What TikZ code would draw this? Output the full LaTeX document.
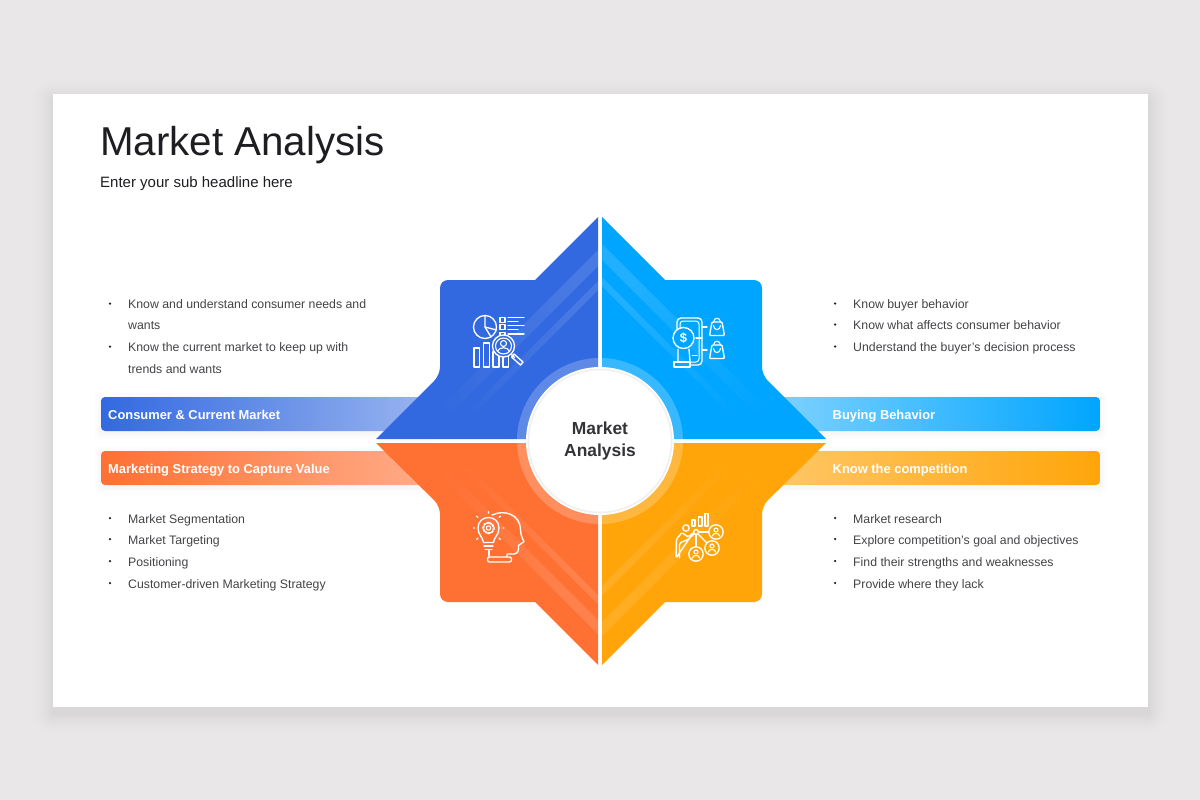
\documentclass[tikz,border=0pt]{standalone}
\usepackage{fontspec}
\setmainfont{Liberation Sans}
\usetikzlibrary{fadings,calc}
\definecolor{bgc}{HTML}{E9E7E8}
\definecolor{cblue}{HTML}{3369E0}
\definecolor{csky}{HTML}{00A5FF}
\definecolor{corange}{HTML}{FF7033}
\definecolor{camber}{HTML}{FFA50A}
\definecolor{ink}{HTML}{1E1E22}
\definecolor{hubc}{HTML}{333338}
\definecolor{bodyc}{HTML}{444448}
\tikzfading[name=stripefade,left color=transparent!100,middle color=transparent!0,right color=transparent!45]
\tikzset{
 x=1pt,y=-1pt,
 titletext/.style={anchor=base west,inner sep=0,text=ink,font=\fontsize{40.3}{41}\selectfont},
 subtext/.style={anchor=base west,inner sep=0,text=ink,font=\fontsize{15}{15}\selectfont},
 linetext/.style={anchor=base west,inner sep=0,text=bodyc,font=\fontsize{12.3}{12.3}\selectfont},
 dotmark/.style={circle,fill=ink,inner sep=0,minimum size=2.5pt},
 bartext/.style={anchor=base west,inner sep=0,text=white,font=\bfseries\fontsize{12.9}{13}\selectfont},
 centertext/.style={align=center,inner sep=0,text=hubc,font=\bfseries\fontsize{17.4}{22}\selectfont},
 icon/.style={draw=white,line width=1.35pt,line cap=round,line join=round},
}
\newcommand{\bandup}[6]{\fill[white,fill opacity=#5,path fading=stripefade,fading angle=#6] ({#1},{#3-#1}) -- ({#2},{#3-#2}) -- ({#2},{#4-#2}) -- ({#1},{#4-#1}) -- cycle;}
\newcommand{\banddn}[6]{\fill[white,fill opacity=#5,path fading=stripefade,fading angle=#6] ({#1},{#1+#3}) -- ({#2},{#2+#3}) -- ({#2},{#2+#4}) -- ({#1},{#1+#4}) -- cycle;}
\newcommand{\softshadow}[4]{\foreach \i in {9,...,1}{\pgfmathsetmacro{\k}{(10-\i)*(10-\i)/81*3}\fill[black!\k!white,rounded corners=\i pt] ({#1-\i},{#2-\i+2}) rectangle ({#3+\i},{#4+\i+2});}}
\begin{document}
\begin{tikzpicture}
\useasboundingbox (0,0) rectangle (1200,800);
\fill[bgc] (0,0) rectangle (1200,800);
% card
\foreach \i in {24,...,1}{\pgfmathsetmacro{\k}{(25-\i)*(25-\i)/576*7}\fill[black!\k!bgc,rounded corners=\i pt] ({53-\i},{94-\i+6}) rectangle ({1148+\i},{707+\i+6});}
\fill[white] (53,94) rectangle (1148,707);
\node[titletext] (title) at (100,155) {Market Analysis};
\node[subtext] (sub) at (100,187.5) {Enter your sub headline here};

% bars
\softshadow{101}{397}{430}{431}
\softshadow{101}{451}{430}{485}
\softshadow{780}{397}{1100}{431}
\softshadow{780}{451}{1100}{485}
\shade[left color=cblue,right color=cblue!50,rounded corners=4pt] (101,397) rectangle (430,431);
\shade[left color=corange,right color=corange!58,rounded corners=4pt] (101,451) rectangle (430,485);
\shade[left color=csky!50,right color=csky,rounded corners=4pt] (770,397) rectangle (1100,431);
\shade[left color=camber!62,right color=camber,rounded corners=4pt] (770,451) rectangle (1100,485);

% quadrants
\path[fill=cblue] (598,217) -- (535,280) [rounded corners=8pt] -- (440,280) -- (440,375) [sharp corners] -- (376,439) -- (598,439) -- cycle;
\path[fill=csky] (602,217) -- (665,280) [rounded corners=8pt] -- (762,280) -- (762,375) [sharp corners] -- (826,439) -- (602,439) -- cycle;
\path[fill=corange] (598,665) -- (535,602) [rounded corners=8pt] -- (440,602) -- (440,506) [sharp corners] -- (376,443) -- (598,443) -- cycle;
\path[fill=camber] (602,665) -- (665,602) [rounded corners=8pt] -- (762,602) -- (762,506) [sharp corners] -- (826,443) -- (602,443) -- cycle;

% stripes
\begin{scope}
\clip (598,217) -- (535,280) -- (440,280) -- (440,375) -- (376,439) -- (598,439) -- cycle;
\bandup{415}{598}{848}{864}{.2}{45}
\bandup{445}{598}{879}{888}{.2}{45}
\end{scope}
\begin{scope}
\clip (602,217) -- (665,280) -- (762,280) -- (762,375) -- (826,439) -- (602,439) -- cycle;
\banddn{602}{790}{-358}{-342}{.24}{135}
\banddn{602}{760}{-325}{-316}{.24}{135}
\end{scope}
\begin{scope}
\clip (598,665) -- (535,602) -- (440,602) -- (440,506) -- (376,443) -- (598,443) -- cycle;
\banddn{415}{598}{22}{36}{.24}{-45}
\banddn{440}{598}{-3}{6}{.24}{-45}
\end{scope}
\begin{scope}
\clip (602,665) -- (665,602) -- (762,602) -- (762,506) -- (826,443) -- (602,443) -- cycle;
\bandup{602}{760}{1188}{1198}{.18}{225}
\bandup{602}{790}{1224}{1238}{.18}{225}
\end{scope}

% centre
\begin{scope}
\clip (376,217) rectangle (598,439);
\fill[white,fill opacity=.22] (600,441) circle (83);
\end{scope}
\begin{scope}
\clip (602,217) rectangle (826,439);
\fill[white,fill opacity=.22] (600,441) circle (83);
\end{scope}
\begin{scope}
\clip (376,443) rectangle (598,665);
\fill[white,fill opacity=.22] (600,441) circle (83);
\end{scope}
\begin{scope}
\clip (602,443) rectangle (826,665);
\fill[white,fill opacity=.22] (600,441) circle (83);
\end{scope}
\fill[white] (600,441) circle (74);
\draw[black!6,line width=1.6pt,fill=white] (600,441) circle (71.5);
\node[centertext] (hub) at (600,441) {Market\\Analysis};

% icon: analysis
\begin{scope}
\draw[icon] (485,327) circle (11.5);
\draw[icon] (485,315.5) -- (485,327) -- (496.5,330);
\draw[icon] (485,327) -- (491,337);
\foreach \yy in {320,327,335}{\draw[icon,line width=1.1pt] (500,{\yy-2.5}) rectangle (505,{\yy+2.5});}
\draw[icon,line width=1.15pt] (508,317.5) -- (524,317.5) (508,321.5) -- (518,321.5) (508,325.5) -- (524,325.5) (508,329.5) -- (518,329.5) (508,334) -- (524,334);
\draw[icon] (474,348) rectangle (479.5,367);
\draw[icon] (483.5,343) rectangle (489.5,367);
\draw[icon] (493,352) rectangle (499,367);
\draw[icon] (503,355) rectangle (508.5,367);
\draw[icon,fill=cblue] (503.5,346) circle (11);
\draw[icon,line width=1.1pt] (503.5,346) circle (8);
\draw[icon,line width=1.1pt] (503.5,343.5) circle (3);
\draw[icon,line width=1.1pt] (497.5,351.5) .. controls (498.5,346.5) and (508.5,346.5) .. (509.5,351.5);
\draw[icon] (511.5,354.5) -- (514.5,357.5);
\draw[icon] (514,354) -- (523,362) -- (520.5,365) -- (511.5,357) -- cycle;
\end{scope}

% icon: buying
\begin{scope}
\draw[icon,rounded corners=4pt] (677,334) -- (677,318) -- (702,318) -- (702,365) -- (690,365);
\draw[icon,rounded corners=3pt,line width=1pt] (680,330) -- (680,321) -- (699,321) -- (699,362) -- (690,362);
\draw[icon,fill=csky] (683.5,338) circle (10.5);
\node[inner sep=0,text=white,font=\bfseries\fontsize{13}{13}\selectfont] (dollar) at (683.5,338) {\$};
\draw[icon] (678,349) -- (678,361) (689,349) -- (690,361);
\draw[icon] (674,362) rectangle (690,367);
\draw[icon,line width=1.1pt] (692.5,355.5) -- (697,355.5);
\draw[icon] (702,327) -- (707,327) (702,338) -- (696,338) (702,350) -- (707,350);
\foreach \yy in {322,345}{
 \draw[icon,rounded corners=1pt] (712,\yy) -- (722,\yy) -- (724.5,{\yy+13.5}) -- (709.5,{\yy+13.5}) -- cycle;
 \draw[icon,line width=1.1pt] (713.5,{\yy}) .. controls (714,{\yy-5}) and (720,{\yy-5}) .. (720.5,{\yy});
 \draw[icon,line width=1.1pt] (713.5,{\yy+3.5}) .. controls (714,{\yy+9}) and (720,{\yy+9}) .. (720.5,{\yy+3.5});
}
\end{scope}

% icon: idea
\begin{scope}
\draw[icon] (492,515) .. controls (505,509) and (520,515) .. (520.5,529) .. controls (520.5,534) and (522,538) .. (524,541.5) -- (518.5,545.5) .. controls (519,550) and (518,553.5) .. (514,554) -- (507,554) -- (507,556.5);
\draw[icon] (483.5,542.5) .. controls (483,537) and (478,535) .. (478,528) .. controls (478,514) and (499,514) .. (499,528) .. controls (499,535) and (494,537) .. (493.5,542.5) -- cycle;
\draw[icon,rounded corners=2pt,line width=1.1pt] (484,546) -- (493,546) (485,549.5) -- (492,549.5);
\draw[icon] (489,550) -- (489,556);
\draw[icon,rounded corners=2pt] (487.5,557) rectangle (511.5,562);
\draw[icon,line width=1.1pt] (488.5,528) circle (2.2);
\draw[icon,line width=2pt,dash pattern=on 1.6pt off 1.7pt] (488.5,528) circle (5.4);
\draw[icon] (488.5,513) -- (488.5,511.5) (478,517.5) -- (476.5,516) (499,517.5) -- (500.5,516) (473.5,528) -- (474.5,528) (503,528) -- (504,528) (478,538) -- (476.5,539.5) (499,538) -- (500.5,539.5);
\end{scope}

% icon: competition
\begin{scope}
\draw[icon,line width=1.2pt] (692,520) rectangle (695,526) (698.5,517) rectangle (702,526) (705,513.5) rectangle (708,526);
\draw[icon] (686,528) circle (3.2);
\draw[icon,rounded corners=1.5pt] (679.5,558) -- (679.5,543) -- (688,539.5) -- (694,534) (693.5,532.5) -- (688,537) -- (682,532.5) -- (676.5,539) -- (676,558) -- cycle;
\draw[icon] (696,532) circle (2.4);
\draw[icon] (698.5,532) -- (708,532);
\draw[icon] (698,534) -- (707,543);
\draw[icon] (696,534.5) -- (696,546);
\foreach \cx/\cy in {716/532,712/548,696/554}{
 \draw[icon] (\cx,\cy) circle (7.2);
 \draw[icon,line width=1.1pt] (\cx,{\cy-2}) circle (2);
 \draw[icon,line width=1.1pt] ({\cx-3.6},{\cy+4}) .. controls ({\cx-3},{\cy+.5}) and ({\cx+3},{\cy+.5}) .. ({\cx+3.6},{\cy+4});
}
\end{scope}

% bar text
\node[bartext] (b1) at (108,419) {Consumer \& Current Market};
\node[bartext] (b2) at (108,473) {Marketing Strategy to Capture Value};
\node[bartext] (b3) at (832.5,419) {Buying Behavior};
\node[bartext] (b4) at (832.5,473) {Know the competition};

% lists
\node[dotmark] (d11) at (110,303.5) {};
\node[linetext] (t11) at (128,308.5) {Know and understand consumer needs and};
\node[linetext] (t12) at (128,329.5) {wants};
\node[dotmark] (d13) at (110,346.5) {};
\node[linetext] (t13) at (128,351.5) {Know the current market to keep up with};
\node[linetext] (t14) at (128,373.5) {trends and wants};

\node[dotmark] (d21) at (835,303.5) {};
\node[linetext] (t21) at (853,308.5) {Know buyer behavior};
\node[dotmark] (d22) at (835,324.5) {};
\node[linetext] (t22) at (853,329.5) {Know what affects consumer behavior};
\node[dotmark] (d23) at (835,346.5) {};
\node[linetext] (t23) at (853,351.5) {Understand the buyer’s decision process};

\node[dotmark] (d31) at (110,518) {};
\node[linetext] (t31) at (128,523) {Market Segmentation};
\node[dotmark] (d32) at (110,539) {};
\node[linetext] (t32) at (128,544) {Market Targeting};
\node[dotmark] (d33) at (110,561) {};
\node[linetext] (t33) at (128,566) {Positioning};
\node[dotmark] (d34) at (110,583) {};
\node[linetext] (t34) at (128,588) {Customer-driven Marketing Strategy};

\node[dotmark] (d41) at (835,518) {};
\node[linetext] (t41) at (853,523) {Market research};
\node[dotmark] (d42) at (835,539) {};
\node[linetext] (t42) at (853,544) {Explore competition’s goal and objectives};
\node[dotmark] (d43) at (835,561) {};
\node[linetext] (t43) at (853,566) {Find their strengths and weaknesses};
\node[dotmark] (d44) at (835,583) {};
\node[linetext] (t44) at (853,588) {Provide where they lack};
\end{tikzpicture}
\end{document}
